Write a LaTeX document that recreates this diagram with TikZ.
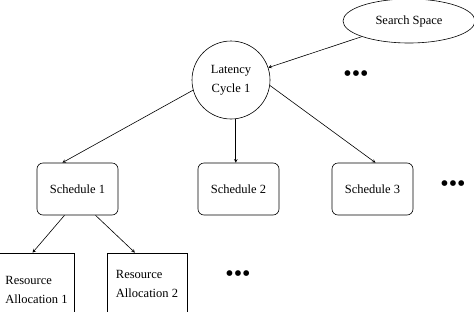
\documentclass[tikz,border=0pt]{standalone}
\usepackage{fontspec}
\setmainfont{Liberation Serif}
\usetikzlibrary{shapes.geometric}
\tikzset{
	textA/.style={
		font={\fontsize{12.5}{19}\selectfont}, inner sep=0pt, align=center
	},
	schedA/.style={
		textA, draw, rounded corners=6pt, minimum width=81pt, minimum height=52pt
	},
	allocA/.style={
		textA, draw, align=left
	},
	dotsA/.style={
		inner sep=0pt, font={\fontsize{24}{24}\selectfont}
	},
	>=stealth,
}

\begin{document}
\begin{tikzpicture}[
x=1pt, y=-1pt, line width=0.6pt
]
\useasboundingbox (0,0) rectangle (474,311);
\clip (0,0) rectangle (474,311);
\node [textA, draw, ellipse, minimum width=132pt, minimum height=44pt] (space) at (409,21) {Search Space};
\node [textA, draw, circle, minimum size=78pt] (cycle) at (231,80) {Latency\\Cycle 1};
\node [dotsA] (dots1) at (356,76) {•••};
\node [schedA] (sched1) at (77.5,189) {Schedule 1};
\node [schedA] (sched2) at (238.5,189) {Schedule 2};
\node [schedA] (sched3) at (372.5,189) {Schedule 3};
\node [dotsA] (dots2) at (453,186) {•••};
\node [allocA, minimum width=75pt, minimum height=74pt] (alloc1) at (36.5,290) {Resource\\Allocation 1};
\node [allocA, minimum width=80pt, minimum height=62pt] (alloc2) at (147,284) {Resource\\Allocation 2};
\node [dotsA] (dots3) at (238,276) {•••};
\draw [->] (space) -- (cycle);
\draw [->] (cycle.195) -- (sched1.120);
\draw [->] (cycle.-83) -- (cycle.-83 |- sched2.north);
\draw [->] (cycle.-8) -- ([xshift=3pt]sched3.north);
\draw [->] ([xshift=-13pt]sched1.south) -- ([xshift=-4pt]alloc1.north);
\draw [->] ([xshift=18pt]sched1.south) -- ([xshift=-12pt]alloc2.north);
\end{tikzpicture}
\end{document}
